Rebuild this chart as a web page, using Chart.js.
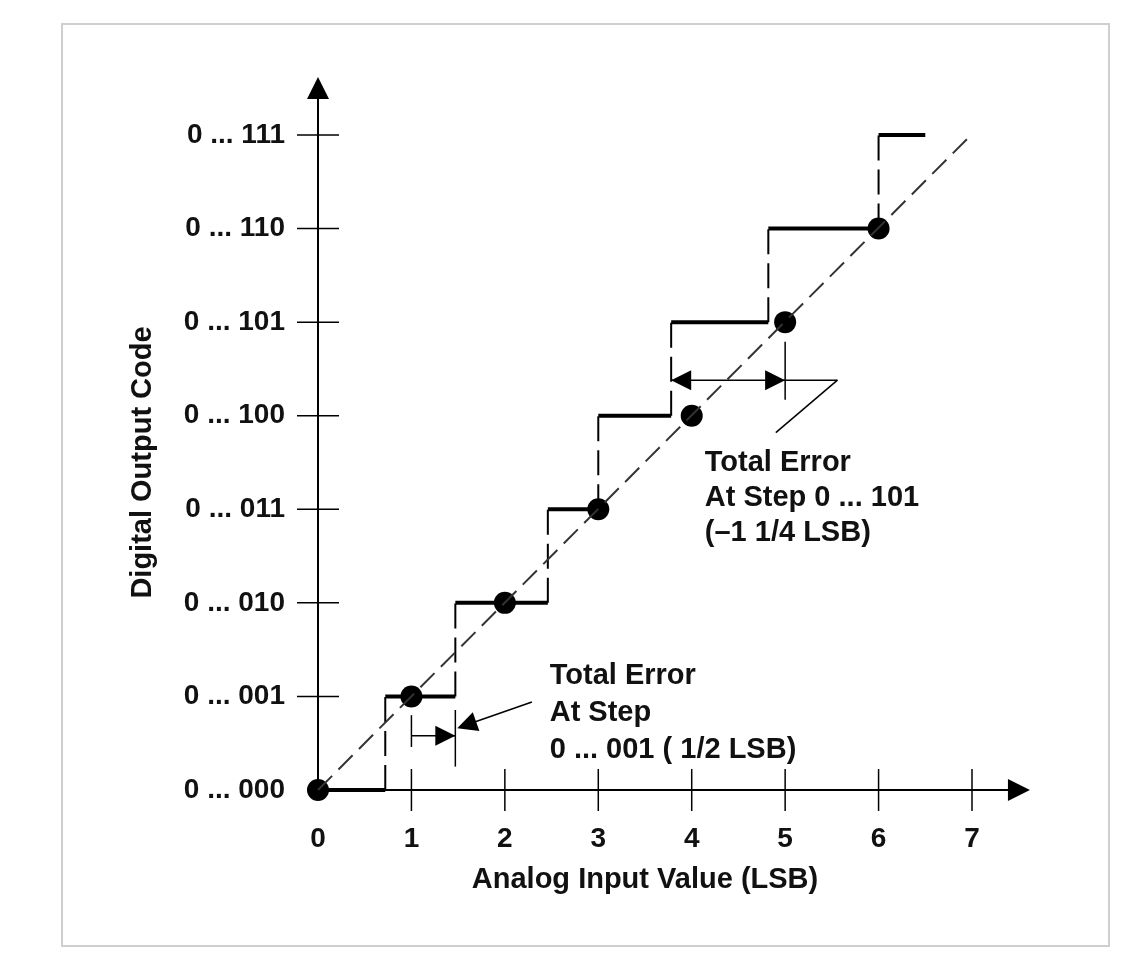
<!DOCTYPE html>
<html>
<head>
<meta charset="utf-8">
<script src="https://cdn.jsdelivr.net/npm/chart.js@4/dist/chart.umd.min.js"></script>
<style>
  html, body { margin: 0; padding: 0; background: #fff; }
  #frame { position: absolute; left: 61px; top: 23px; width: 1045px; height: 920px; border: 2px solid #cfcfcf; }
  #adc { position: absolute; left: 0; top: 0; }
</style>
</head>
<body>
<div id="frame"></div>
<canvas id="adc" width="1143" height="961"></canvas>
<script>
// axis ticks
const xValues = [0, 1, 2, 3, 4, 5, 6, 7];
const codes = [0, 1, 2, 3, 4, 5, 6, 7];
const codeLabels = ['0 ... 000', '0 ... 001', '0 ... 010', '0 ... 011', '0 ... 100', '0 ... 101', '0 ... 110', '0 ... 111'];

// transfer curve: where each code starts and ends (LSB)
const stepStart = [0, 0.72, 1.47, 2.46, 3.0, 3.78, 4.82, 6.0];
const stepEnd = [0.72, 1.47, 2.46, 3.0, 3.78, 4.82, 6.0, 6.5];

// ideal points and ideal line
const idealX = [0, 1, 2, 3, 4, 5, 6];
const idealY = [0, 1, 2, 3, 4, 5, 6];
const idealLineX = [0, 7.01];
const idealLineY = [0, 7.02];

// annotations
const noteHigh = ['Total Error', 'At Step 0 ... 101', '(\u20131 1/4 LSB)'];
const noteHighAt = [4.14, 3.5];
const noteLow = ['Total Error', 'At Step', '0 ... 001 ( 1/2 LSB)'];
const noteLowAt = [2.48, 1.22];

const axisMax = 7.62; // arrow tips
const ink = '#000';
const fontFamily = "'Liberation Sans', Arial, sans-serif";

Chart.defaults.font.family = fontFamily;
Chart.defaults.color = '#111';

const stepLines = [];
stepStart.forEach((s, i) => {
    stepLines.push({ x: s, y: codes[i] }, { x: stepEnd[i], y: codes[i] }, { x: stepEnd[i], y: null });
});

const riseLines = [];
for (let i = 0; i < codes.length - 1; i++) {
    riseLines.push({ x: stepEnd[i], y: codes[i] }, { x: stepEnd[i], y: codes[i + 1] }, { x: stepEnd[i], y: null });
}

const drawHead = (ctx, x1, y1, x2, y2, len, half) => {
    const a = Math.atan2(y2 - y1, x2 - x1);
    const bx = x2 - len * Math.cos(a);
    const by = y2 - len * Math.sin(a);
    ctx.beginPath();
    ctx.moveTo(x2, y2);
    ctx.lineTo(bx + half * Math.sin(a), by - half * Math.cos(a));
    ctx.lineTo(bx - half * Math.sin(a), by + half * Math.cos(a));
    ctx.closePath();
    ctx.fill();
};

const seg = (ctx, x1, y1, x2, y2) => {
    ctx.beginPath();
    ctx.moveTo(x1, y1);
    ctx.lineTo(x2, y2);
    ctx.stroke();
};

const axesPlugin = {
    id: 'arrowAxes',
    beforeDatasetsDraw(chart) {
        const { ctx, scales: { x, y } } = chart;
        const x0 = x.getPixelForValue(0), y0 = y.getPixelForValue(0);
        const xEnd = x.getPixelForValue(axisMax), yEnd = y.getPixelForValue(axisMax);
        ctx.save();
        ctx.strokeStyle = ink;
        ctx.fillStyle = ink;
        ctx.lineWidth = 2;
        seg(ctx, x0, y0, xEnd - 10, y0);
        seg(ctx, x0, y0, x0, yEnd + 10);
        drawHead(ctx, x0, y0, xEnd, y0, 22, 11);
        drawHead(ctx, x0, y0, x0, yEnd, 22, 11);
        ctx.lineWidth = 1.5;
        xValues.slice(1).forEach(v => {
            const px = x.getPixelForValue(v);
            seg(ctx, px, y0 - 21, px, y0 + 21);
        });
        codes.slice(1).forEach(v => {
            const py = y.getPixelForValue(v);
            seg(ctx, x0 - 21, py, x0 + 21, py);
        });
        ctx.restore();
    },
    afterDatasetsDraw(chart) {
        const { ctx, scales: { x, y } } = chart;
        const px = v => x.getPixelForValue(v);
        const py = v => y.getPixelForValue(v);
        ctx.save();
        ctx.strokeStyle = ink;
        ctx.fillStyle = ink;
        ctx.lineWidth = 1.5;

        // total error at step 0...101
        seg(ctx, px(3.78), py(4.38), px(5.56), py(4.38));
        drawHead(ctx, px(4.4), py(4.38), px(3.78), py(4.38), 20, 10);
        drawHead(ctx, px(4.4), py(4.38), px(5.0), py(4.38), 20, 10);
        seg(ctx, px(5.0), py(4.79), px(5.0), py(4.17));
        seg(ctx, px(5.56), py(4.38), px(4.9), py(3.82));

        // total error at step 0...001
        seg(ctx, px(1.0), py(0.8), px(1.0), py(0.46));
        seg(ctx, px(1.47), py(0.855), px(1.47), py(0.25));
        seg(ctx, px(1.0), py(0.58), px(1.47), py(0.58));
        drawHead(ctx, px(1.0), py(0.58), px(1.47), py(0.58), 20, 10);
        seg(ctx, px(2.29), py(0.94), px(1.6), py(0.7));
        drawHead(ctx, px(2.29), py(0.94), px(1.49), py(0.66), 20, 10);

        ctx.font = 'bold 29px ' + fontFamily;
        ctx.fillStyle = '#111';
        ctx.textBaseline = 'middle';
        noteHigh.forEach((t, i) => ctx.fillText(t, px(noteHighAt[0]), py(noteHighAt[1]) + i * 35));
        noteLow.forEach((t, i) => ctx.fillText(t, px(noteLowAt[0]), py(noteLowAt[1]) + i * 37));
        ctx.restore();
    }
};

new Chart(document.getElementById('adc'), {
    type: 'scatter',
    data: {
        datasets: [{
            label: 'Ideal',
            data: idealLineX.map((v, i) => ({ x: v, y: idealLineY[i] })),
            showLine: true,
            borderColor: '#333',
            borderWidth: 2,
            borderDash: [20, 9],
            pointRadius: 0,
            clip: false,
        }, {
            label: 'Rise',
            data: riseLines,
            showLine: true,
            spanGaps: false,
            borderColor: ink,
            borderWidth: 2,
            borderDash: [25, 9],
            pointRadius: 0,
            clip: false,
        }, {
            label: 'Code',
            data: stepLines,
            showLine: true,
            spanGaps: false,
            borderColor: ink,
            borderWidth: 4,
            pointRadius: 0,
            clip: false,
        }, {
            label: 'Points',
            data: idealX.map((v, i) => ({ x: v, y: idealY[i] })),
            backgroundColor: ink,
            borderWidth: 0,
            pointRadius: 11,
            pointHoverRadius: 11,
            clip: false,
        }]
    },
    options: {
        responsive: false,
        animation: false,
        events: [],
        layout: { padding: { left: 110, right: 171, top: 135, bottom: 40 } },
        plugins: { legend: { display: false }, tooltip: { enabled: false } },
        scales: {
            x: {
                type: 'linear',
                min: 0,
                max: 7,
                afterBuildTicks: scale => { scale.ticks = xValues.map(v => ({ value: v })); },
                afterFit: scale => { scale.height = 131; },
                grid: { display: false, drawTicks: false },
                border: { display: false },
                ticks: { font: { size: 28, weight: 'bold' }, padding: 32, maxRotation: 0 },
                title: { display: true, text: 'Analog Input Value (LSB)', font: { size: 29, weight: 'bold' }, padding: { top: 0, bottom: 24 } },
            },
            y: {
                type: 'linear',
                min: 0,
                max: 7,
                afterBuildTicks: scale => { scale.ticks = codes.map(v => ({ value: v })); },
                afterFit: scale => { scale.width = 208; },
                grid: { display: false, drawTicks: false },
                border: { display: false },
                ticks: { font: { size: 28, weight: 'bold' }, padding: 33, callback: v => codeLabels[v] },
                title: { display: true, text: 'Digital Output Code', font: { size: 29, weight: 'bold' }, padding: { top: 16, bottom: 0 } },
            }
        }
    },
    plugins: [axesPlugin]
});
</script>
</body>
</html>
